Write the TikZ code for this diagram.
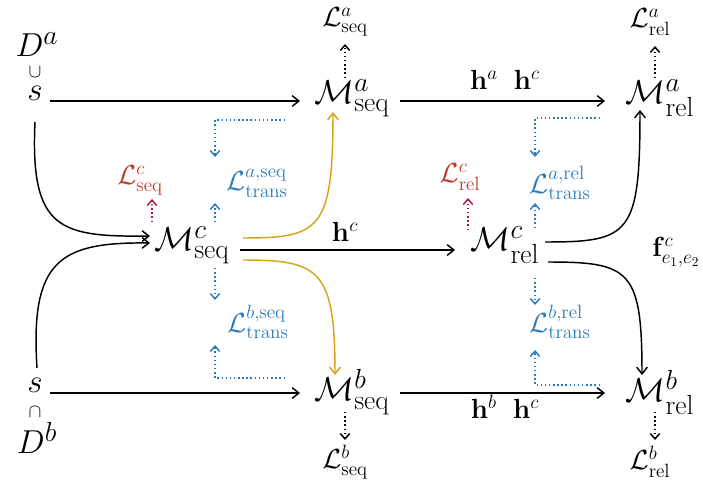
\documentclass[tikz,border=0pt]{standalone}
\usepackage{amsmath,amssymb}
\usetikzlibrary{arrows.meta}
\definecolor{tb}{HTML}{2B7BB9}
\definecolor{tr}{HTML}{C0392B}
\definecolor{tm}{HTML}{A0184E}
\definecolor{ty}{HTML}{D9A21B}
\begin{document}
\begin{tikzpicture}[x=0.75pt,y=-0.75pt,
 M/.style={inner sep=0pt,font=\fontsize{28}{32}\selectfont},
 L/.style={inner sep=0pt,font=\fontsize{20}{24}\selectfont},
 ar/.style={-{Straight Barb[length=5pt,width=8pt]},line width=1.1pt},
 dt/.style={-{Straight Barb[length=4pt,width=7pt]},line width=1.1pt,dotted},
 bl/.style={dt,tb}]
\useasboundingbox (0,0) rectangle (703,485);
\node[M] (Da) at (37,45) {$D^a$};
\node[inner sep=0pt,font=\Large] (cu) at (35,72) {$\cup$};
\node[M] (sa) at (35,93) {$s$};
\node[M] (sb) at (35,385) {$s$};
\node[inner sep=0pt,font=\Large] (ca) at (35,412) {$\cap$};
\node[M] (Db) at (37,438) {$D^b$};
\node[M] (Msa) at (352,98) {$\mathcal{M}^a_{\mathrm{seq}}$};
\node[M] (Mra) at (660,98) {$\mathcal{M}^a_{\mathrm{rel}}$};
\node[M] (Msc) at (192,245) {$\mathcal{M}^c_{\mathrm{seq}}$};
\node[M] (Mrc) at (505,245) {$\mathcal{M}^c_{\mathrm{rel}}$};
\node[M] (Msb) at (352,392) {$\mathcal{M}^b_{\mathrm{seq}}$};
\node[M] (Mrb) at (660,392) {$\mathcal{M}^b_{\mathrm{rel}}$};
\node[L] (Lsa) at (345,22) {$\mathcal{L}^a_{\mathrm{seq}}$};
\node[L] (Lra) at (650,22) {$\mathcal{L}^a_{\mathrm{rel}}$};
\node[L] (Lsb) at (345,462) {$\mathcal{L}^b_{\mathrm{seq}}$};
\node[L] (Lrb) at (650,462) {$\mathcal{L}^b_{\mathrm{rel}}$};
\node[L,text=tr] (Lsc) at (140,180) {$\mathcal{L}^c_{\mathrm{seq}}$};
\node[L,text=tr] (Lrc) at (460,177) {$\mathcal{L}^c_{\mathrm{rel}}$};
\node[L,text=tb] (Tas) at (257,183) {$\mathcal{L}^{a,\mathrm{seq}}_{\mathrm{trans}}$};
\node[L,text=tb] (Tbs) at (258,322) {$\mathcal{L}^{b,\mathrm{seq}}_{\mathrm{trans}}$};
\node[L,text=tb] (Tar) at (560,183) {$\mathcal{L}^{a,\mathrm{rel}}_{\mathrm{trans}}$};
\node[L,text=tb] (Tbr) at (560,322) {$\mathcal{L}^{b,\mathrm{rel}}_{\mathrm{trans}}$};
\node[L] (l1) at (505,80) {$\mathbf{h}^a\ \ \mathbf{h}^c$};
\node[L] (l2) at (345,232) {$\mathbf{h}^c$};
\node[L] (l3) at (676,252) {$\mathbf{f}^c_{e_1,e_2}$};
\node[L] (l4) at (505,407) {$\mathbf{h}^b\ \ \mathbf{h}^c$};
\coordinate (a1) at (50,101); \coordinate (a2) at (300,101);
\coordinate (b1) at (50,393); \coordinate (b2) at (300,393);
\draw[ar] (a1) -- (a2);
\draw[ar] (b1) -- (b2);
\draw[ar] (400,101) -- (605,101);
\draw[ar] (400,393) -- (605,393);
\draw[ar] (240,250) -- (455,250);
\draw[ar] (35,122) .. controls (30,230) and (60,237) .. (150,236);
\draw[ar] (37,368) .. controls (30,260) and (60,242) .. (150,243);
\draw[ar,ty] (243,238) .. controls (320,238) and (333,230) .. (333,112);
\draw[ar,ty] (243,260) .. controls (320,260) and (335,270) .. (335,375);
\draw[ar] (545,242) .. controls (630,242) and (640,235) .. (640,110);
\draw[ar] (548,262) .. controls (630,262) and (642,270) .. (642,375);
\draw[bl] (285,120) -- (215,120) -- (215,157);
\draw[bl] (215,222) -- (215,203);
\draw[bl] (215,268) -- (215,300);
\draw[bl] (285,378) -- (215,378) -- (215,345);
\draw[bl] (600,118) -- (535,118) -- (535,157);
\draw[bl] (535,228) -- (535,203);
\draw[bl] (535,278) -- (535,305);
\draw[bl] (600,385) -- (535,385) -- (535,350);
\draw[dt,tm] (152,222) -- (152,199);
\draw[dt,tm] (468,230) -- (468,198);
\draw[dt] (345,78) -- (345,44);
\draw[dt] (655,78) -- (655,46);
\draw[dt] (345,412) -- (345,440);
\draw[dt] (655,412) -- (655,440);
\end{tikzpicture}
\end{document}
